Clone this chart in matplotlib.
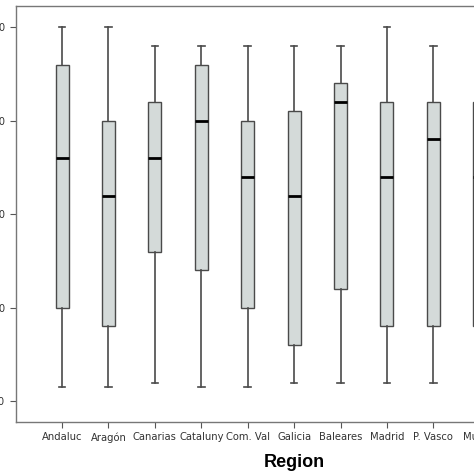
import matplotlib
matplotlib.use("Agg")
import matplotlib.pyplot as plt

# Datos (escala 1-5)
regiones = ["Andaluc", "Aragón", "Canarias", "Cataluny", "Com. Val",
            "Galicia", "Baleares", "Madrid", "P. Vasco", "Murcia"]
minimo = [1.15, 1.15, 1.2, 1.15, 1.15, 1.2, 1.2, 1.2, 1.2, 1.2]
q1 = [2.0, 1.8, 2.6, 2.4, 2.0, 1.6, 2.2, 1.8, 1.8, 1.8]
mediana = [3.6, 3.2, 3.6, 4.0, 3.4, 3.2, 4.2, 3.4, 3.8, 3.4]
q3 = [4.6, 4.0, 4.2, 4.6, 4.0, 4.1, 4.4, 4.2, 4.2, 4.2]
maximo = [5.0, 5.0, 4.8, 4.8, 4.8, 4.8, 4.8, 5.0, 4.8, 4.8]
yticks = [1, 2, 3, 4, 5]

stats = []
for i, r in enumerate(regiones):
    stats.append(dict(label=r, whislo=minimo[i], q1=q1[i], med=mediana[i],
                      q3=q3[i], whishi=maximo[i], fliers=[]))

fig = plt.figure(figsize=(4.74, 4.74), dpi=100)
ax = fig.add_axes([0.033, 0.110, 1.175, 0.877])

gris = "#4a4a4a"
ax.bxp(stats, positions=range(1, len(regiones) + 1), widths=0.28,
       patch_artist=True, showfliers=False,
       boxprops=dict(facecolor="#d4dad9", edgecolor=gris, linewidth=1.0),
       whiskerprops=dict(color=gris, linewidth=1.2),
       capprops=dict(color=gris, linewidth=1.2),
       medianprops=dict(color="black", linewidth=2.0))

ax.set_xlim(0, 12)
ax.set_ylim(0.78, 5.225)
ax.set_yticks(yticks)
ax.set_yticklabels([f"{v:.2f}" for v in yticks], fontsize=7.2, color="#333333")
ax.tick_params(axis="x", labelsize=7.2, labelcolor="#333333", length=4,
               color="#555555")
ax.tick_params(axis="y", length=4, color="#555555")
for s in ax.spines.values():
    s.set_color("#777777")
    s.set_linewidth(1.0)

ax.set_xlabel("Region", fontsize=13, fontweight="bold",
              family="Liberation Sans", labelpad=8)

fig.savefig("out.png", dpi=100)
